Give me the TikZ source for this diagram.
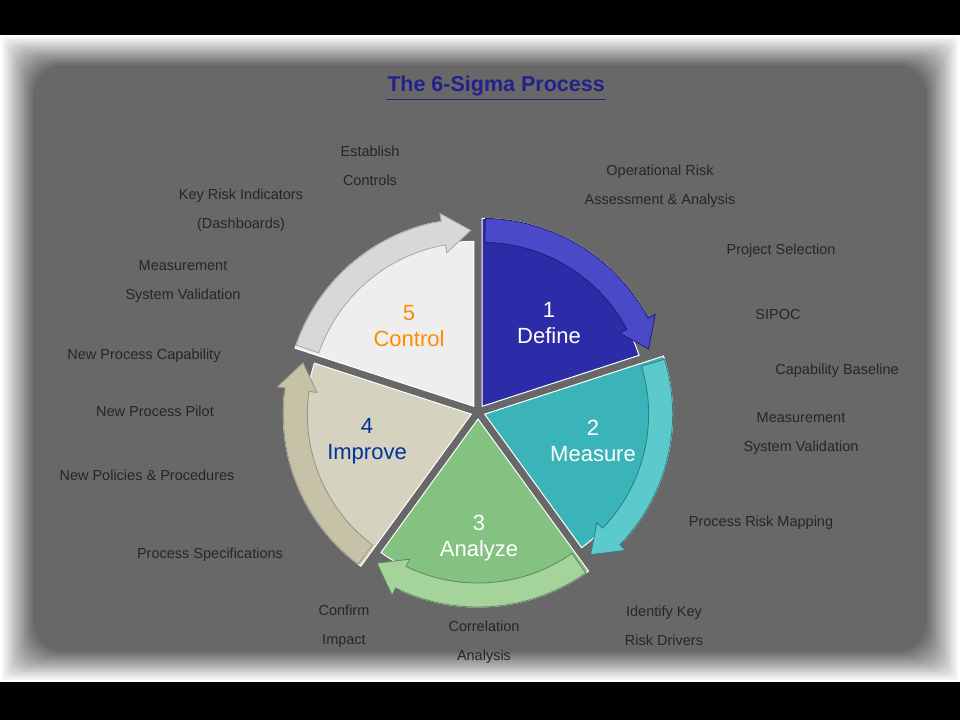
\documentclass[tikz,border=0pt]{standalone}
\usepackage{fontspec}
\setmainfont{Liberation Sans}
\definecolor{defc}{HTML}{2C2CA8}\definecolor{defb}{HTML}{4A4AC8}
\definecolor{meac}{HTML}{3AB4B8}\definecolor{meab}{HTML}{5CCACC}
\definecolor{anac}{HTML}{84C282}\definecolor{anab}{HTML}{A4D49A}
\definecolor{impc}{HTML}{D6D2C0}\definecolor{impb}{HTML}{C6C2A8}
\definecolor{conc}{HTML}{EEEEEE}\definecolor{conb}{HTML}{D8D8D8}
\definecolor{titc}{HTML}{22228C}
\tikzset{lab/.style={font=\fontsize{14.5}{29}\selectfont,align=center,text=black!85},
 wl/.style={font=\fontsize{22}{26}\selectfont,align=center}}
\begin{document}
\begin{tikzpicture}[x=1pt,y=1pt]
\useasboundingbox (0,0) rectangle (960,720);
\fill[black] (0,0) rectangle (960,720);
\foreach \i in {0,...,15}{
 \pgfmathsetmacro{\w}{100-\i*6.6}
 \fill[white!\w!black!60,rounded corners=\i*2pt] (\i*2.2,38+\i*2) rectangle (960-\i*2.2,685-\i*2);}
\node[font=\bfseries\fontsize{21.5}{24}\selectfont,text=titc,inner sep=1pt] (title) at (496,634) {The 6-Sigma Process};
\draw[titc,line width=1.2pt] ([yshift=-2pt]title.south west) -- ([yshift=-2pt]title.south east);
\begin{scope}[shift={(478,308)}]
\foreach \a/\c/\b in {90/defc/defb,18/meac/meab,-54/anac/anab,-126/impc/impb,-198/conc/conb}{
 \begin{scope}[shift={(\a-36:7)}]
  \fill[\c,draw=white,line width=1pt] (0,0) -- (\a:188) arc[start angle=\a,end angle=\a-60,radius=188] -- (\a-60:165) arc[start angle=\a-60,end angle=\a-72,radius=165] -- cycle;
  \fill[\b,draw=\c!70!black,line width=0.8pt] (\a-1:188) arc[start angle=\a-1,end angle=\a-62,radius=188] -- (\a-62:196) -- (\a-71:176) -- (\a-62:156) -- (\a-62:164) arc[start angle=\a-62,end angle=\a-1,radius=164] -- cycle;
 \end{scope}}
\end{scope}
\node[wl,text=white] (d) at (549,397) {1\\Define};
\node[wl,text=white] (m) at (593,279) {2\\Measure};
\node[wl,text=white] (an) at (479,182) {3\\Analyze};
\node[wl,text=blue!50!black!80!cyan] (im) at (367,279) {4\\Improve};
\node[wl,text=orange!90!yellow] (co) at (409,394) {5\\Control};
\node[lab] (t1) at (370,554) {Establish\\Controls};
\node[lab] (t2) at (241,510) {Key Risk Indicators\\(Dashboards)};
\node[lab] (t3) at (183,438) {Measurement\\System Validation};
\node[lab] (t4) at (144,364) {New Process Capability};
\node[lab] (t5) at (155,309) {New Process Pilot};
\node[lab] (t6) at (147,245) {New Policies \& Procedures};
\node[lab] (t7) at (210,165) {Process Specifications};
\node[lab] (t8) at (344,94) {Confirm\\Impact};
\node[lab] (t9) at (484,78) {Correlation\\Analysis};
\node[lab] (t10) at (664,94) {Identify Key\\Risk Drivers};
\node[lab] (t11) at (761,197) {Process Risk Mapping};
\node[lab] (t12) at (801,286) {Measurement\\System Validation};
\node[lab] (t13) at (837,349) {Capability Baseline};
\node[lab] (t14) at (778,405) {SIPOC};
\node[lab] (t15) at (781,469) {Project Selection};
\node[lab] (t16) at (660,534) {Operational Risk\\Assessment \& Analysis};
\end{tikzpicture}
\end{document}
